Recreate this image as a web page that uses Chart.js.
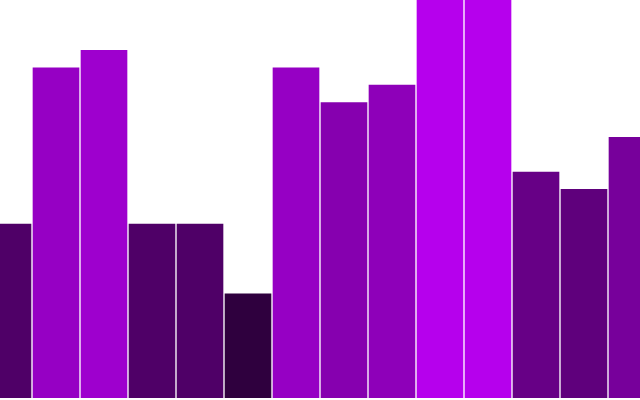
<!DOCTYPE html>
<html>
<head>
<meta charset="utf-8">
<script src="https://cdn.jsdelivr.net/npm/chart.js@4"></script>
<style>
  html, body { margin: 0; padding: 0; background: #fff; overflow: hidden; }
  canvas { display: block; }
</style>
</head>
<body>
<canvas id="bars" width="640" height="400"></canvas>
<script>
// one value per bar, left to right
const positions = [0, 1, 2, 3, 4, 5, 6, 7, 8, 9, 10, 11, 12, 13];
const values = [10, 19, 20, 10, 10, 6, 19, 17, 18, 23, 23, 13, 12, 15];

// darker for small bars, brighter for tall ones
function shade(v) {
  const r = Math.round(v * 7.9);
  const b = Math.round(v * 10.3);
  return 'rgb(' + r + ', 0, ' + Math.min(b, 240) + ')';
}

const ctx = document.getElementById('bars').getContext('2d');
new Chart(ctx, {
  type: 'bar',
  data: {
    datasets: [{
      data: positions.map((x, i) => ({ x: x, y: values[i] })),
      backgroundColor: values.map(shade),
      barThickness: 46,
      borderWidth: 0
    }]
  },
  options: {
    responsive: false,
    animation: false,
    devicePixelRatio: 1,
    layout: { padding: { top: 0, left: 0, right: 0, bottom: 2 } },
    plugins: { legend: { display: false }, tooltip: { enabled: false } },
    scales: {
      x: { type: 'linear', min: -1 / 6, max: 13 + 1 / 6, display: false, offset: false },
      y: { min: 0, max: 22.9, display: false }
    }
  }
});
</script>
</body>
</html>
